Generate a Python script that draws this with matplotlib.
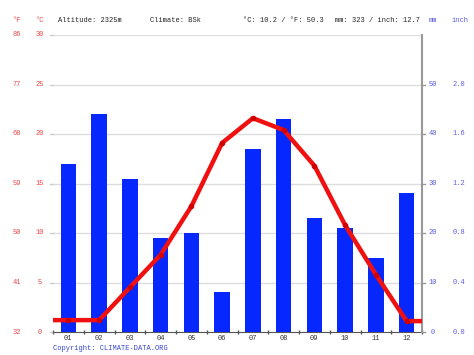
import matplotlib
matplotlib.use("Agg")
import matplotlib.pyplot as plt
import numpy as np

months = ["01", "02", "03", "04", "05", "06", "07", "08", "09", "10", "11", "12"]
precip_mm = [34, 44, 31, 19, 20, 8, 37, 43, 23, 21, 15, 28]
temp_c = [1.2, 1.2, 4.5, 7.8, 12.7, 19.1, 21.6, 20.4, 16.8, 10.8, 5.8, 1.1]
c_ticks = [0, 5, 10, 15, 20, 25, 30]
f_labels = ["32", "41", "50", "59", "68", "77", "86"]
mm_ticks = [0, 10, 20, 30, 40, 50]
inch_labels = ["0.0", "0.4", "0.8", "1.2", "1.6", "2.0"]

W, H = 474, 355
fig = plt.figure(figsize=(W / 100, H / 100), dpi=100)
L, R, T, B = 53, 422, 35, 332
ax = fig.add_axes([L / W, 1 - B / H, (R - L) / W, (B - T) / H])
ax2 = ax.twinx()

mono = "Liberation Mono"
fs = 5.0
red = "#e8474a"
blue_txt = "#5a5ae0"

x = np.arange(len(months))
ax2.bar(x, precip_mm, width=0.5, color="#0628ff", zorder=2)
ax2.set_ylim(0, 60)
ax.set_ylim(0, 30)
ax.set_xlim(-0.5, len(months) - 0.5)

# grid lines
for t in c_ticks[1:]:
    ax.axhline(t, color="#dddddd", lw=1, zorder=0)

# temperature line extended to edges
tx = np.concatenate([[-0.5], x, [len(months) - 0.5]])
ty = np.concatenate([[temp_c[0]], temp_c, [temp_c[-1]]])
ax2.plot(tx, np.array(ty) * 2, color="#f01010", lw=3.2, solid_capstyle="butt", zorder=3)
ax2.plot(x, np.array(temp_c) * 2, "o", color="#d00000", ms=3, zorder=4)

for a in (ax, ax2):
    a.set_yticks([])
    for s in ("top", "left", "right"):
        a.spines[s].set_visible(False)
ax2.spines["right"].set_visible(True)
ax2.spines["right"].set_color("#999999")
ax2.spines["right"].set_linewidth(1.5)
ax.spines["bottom"].set_color("#555555")
ax2.spines["bottom"].set_visible(False)

ax.set_xticks(np.arange(-0.5, len(months) - 0.4, 1))
ax.set_xticklabels([])
ax.set_xticks(x, minor=True)
ax.set_xticklabels(months, minor=True, fontsize=fs, family=mono, color="#333333")
ax.tick_params(axis="x", which="major", length=2.5, width=1, color="#555555", direction="inout")
ax.tick_params(axis="x", which="minor", length=0, pad=2)

def fy(v):
    return 1 - (B - (B - T) * v) / H

for c, f in zip(c_ticks, f_labels):
    y = fy(c / 30)
    fig.text(17 / W, y, f, color=red, fontsize=fs, family=mono, ha="center", va="center")
    fig.text(40 / W, y, str(c), color=red, fontsize=fs, family=mono, ha="center", va="center")
    ax.plot([-0.5 - 0.1, -0.5], [c, c], color="#cccccc", lw=1, clip_on=False)
for m, i in zip(mm_ticks, inch_labels):
    y = fy(m / 60)
    fig.text(433 / W, y, str(m), color=blue_txt, fontsize=fs, family=mono, ha="center", va="center")
    fig.text(459 / W, y, i, color=blue_txt, fontsize=fs, family=mono, ha="center", va="center")
    ax2.plot([len(months) - 0.5, len(months) - 0.5 + 0.1], [m, m], color="#999999", lw=1, clip_on=False)

hy = 1 - 20 / H
fig.text(17 / W, hy, "°F", color=red, fontsize=fs, family=mono, ha="center", va="center")
fig.text(40 / W, hy, "°C", color=red, fontsize=fs, family=mono, ha="center", va="center")
fig.text(433 / W, hy, "mm", color=blue_txt, fontsize=fs, family=mono, ha="center", va="center")
fig.text(460 / W, hy, "inch", color=blue_txt, fontsize=fs, family=mono, ha="center", va="center")
fig.text(58 / W, hy, "Altitude: 2325m", color="#222222", fontsize=fs, family=mono, ha="left", va="center")
fig.text(150 / W, hy, "Climate: BSk", color="#222222", fontsize=fs, family=mono, ha="left", va="center")
fig.text(243 / W, hy, "°C: 10.2 / °F: 50.3", color="#222222", fontsize=fs, family=mono, ha="left", va="center")
fig.text(335 / W, hy, "mm: 323 / inch: 12.7", color="#222222", fontsize=fs, family=mono, ha="left", va="center")
fig.text(53 / W, 1 - 348 / H, "Copyright: CLIMATE-DATA.ORG", color="#3344cc", fontsize=fs, family=mono, ha="left", va="center")

fig.savefig("out.png", dpi=100)
